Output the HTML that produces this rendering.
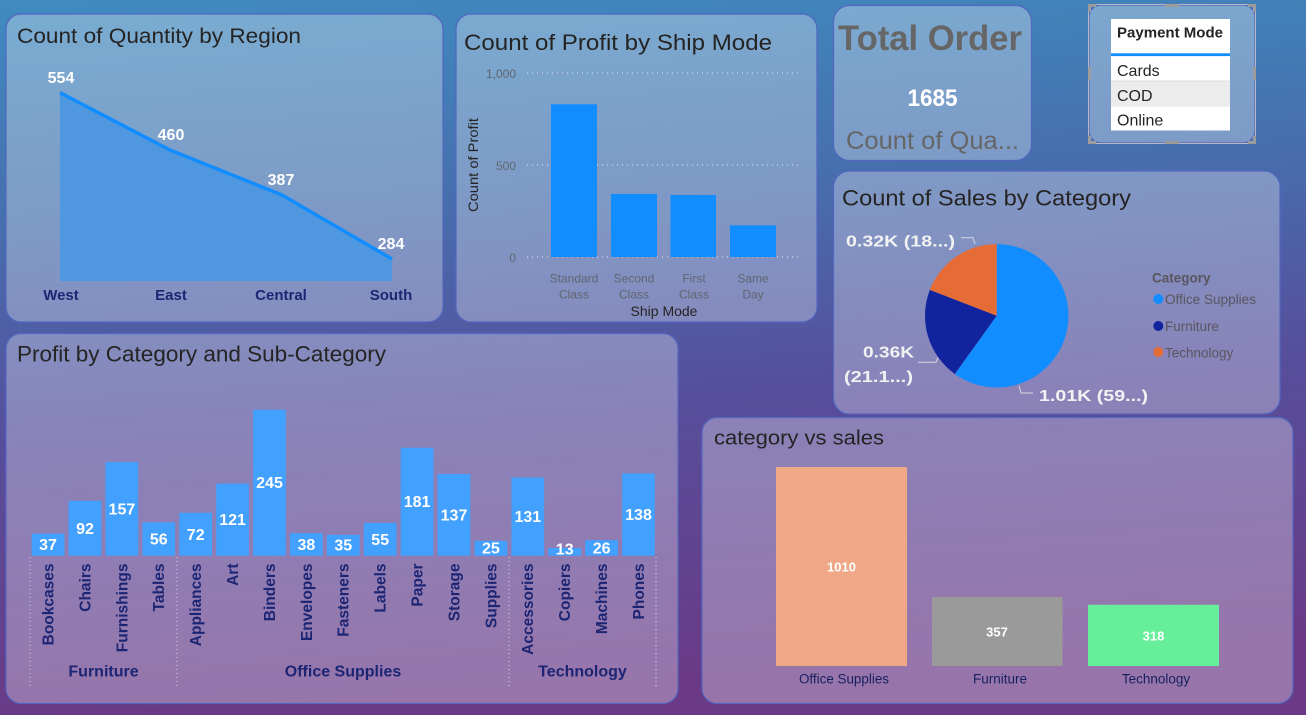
<!DOCTYPE html>
<html><head><meta charset="utf-8">
<style>
html,body{margin:0;padding:0;width:1306px;height:715px;overflow:hidden;}
svg{display:block;font-family:"Liberation Sans","DejaVu Sans",sans-serif;}
</style></head>
<body>
<svg width="1306" height="715" viewBox="0 0 1306 715" xmlns="http://www.w3.org/2000/svg">
<defs>
<linearGradient id="bg" x1="0" y1="0" x2="0.12" y2="1">
<stop offset="0" stop-color="#3f8bc0"/>
<stop offset="0.3" stop-color="#4670ae"/>
<stop offset="0.6" stop-color="#564f9c"/>
<stop offset="1" stop-color="#6a3a86"/>
</linearGradient>
</defs>
<rect width="1306" height="715" fill="url(#bg)"/>

<!-- Card 1: Count of Quantity by Region -->
<rect x="6" y="14" width="437" height="308" rx="15" fill="rgba(255,255,255,0.3)" stroke="#5366c2" stroke-width="1.2"/>
<text x="17" y="43" font-size="21" fill="#252423" textLength="284" lengthAdjust="spacingAndGlyphs">Count of Quantity by Region</text>
<polygon points="60,92.7 170,150 282,195 392,259 392,281 60,281" fill="#4f98df"/>
<polyline points="60,92.7 170,150 282,195 392,259" fill="none" stroke="#118DFF" stroke-width="3.5" stroke-linejoin="round"/>
<g font-size="16" font-weight="bold" fill="#ffffff" text-anchor="middle">
<text x="61" y="83">554</text>
<text x="171" y="140">460</text>
<text x="281" y="185">387</text>
<text x="391" y="249">284</text>
</g>
<g font-size="15" font-weight="bold" fill="#1b2773" text-anchor="middle">
<text x="61" y="300">West</text>
<text x="171" y="300">East</text>
<text x="281" y="300">Central</text>
<text x="391" y="300">South</text>
</g>

<!-- Card 2: Count of Profit by Ship Mode -->
<rect x="456" y="14" width="361" height="308" rx="15" fill="rgba(255,255,255,0.3)" stroke="#5366c2" stroke-width="1.2"/>
<text x="464" y="50" font-size="22" fill="#252423" textLength="308" lengthAdjust="spacingAndGlyphs">Count of Profit by Ship Mode</text>
<g stroke="#e6e6ee" stroke-width="1" stroke-dasharray="1,4">
<line x1="527" y1="73" x2="802" y2="73"/>
<line x1="527" y1="165" x2="802" y2="165"/>
<line x1="527" y1="257" x2="802" y2="257"/>
</g>
<g font-size="12" fill="#5f6670" text-anchor="end">
<text x="516" y="78">1,000</text>
<text x="516" y="170">500</text>
<text x="516" y="262">0</text>
</g>
<g fill="#118DFF">
<rect x="551" y="104.3" width="46" height="152.7"/>
<rect x="611" y="194" width="46" height="63"/>
<rect x="670.5" y="195" width="45.5" height="62"/>
<rect x="730" y="225.3" width="46" height="31.7"/>
</g>
<g font-size="12" fill="#5f6670" text-anchor="middle">
<text x="574" y="282.5">Standard</text><text x="574" y="298.5">Class</text>
<text x="634" y="282.5">Second</text><text x="634" y="298.5">Class</text>
<text x="694" y="282.5">First</text><text x="694" y="298.5">Class</text>
<text x="753" y="282.5">Same</text><text x="753" y="298.5">Day</text>
</g>
<text x="664" y="316" font-size="14" fill="#252423" text-anchor="middle">Ship Mode</text>
<text transform="translate(478,165) rotate(-90)" font-size="14" fill="#252423" text-anchor="middle" textLength="94" lengthAdjust="spacingAndGlyphs">Count of Profit</text>

<!-- Card 3: Total Order -->
<rect x="833.5" y="5.5" width="198" height="155" rx="16" fill="rgba(255,255,255,0.3)" stroke="#5366c2" stroke-width="1.2"/>
<text x="838" y="50" font-size="35" font-weight="bold" fill="#666666" textLength="184" lengthAdjust="spacingAndGlyphs">Total Order</text>
<text x="932.5" y="106" font-size="24" font-weight="bold" fill="#ffffff" text-anchor="middle" textLength="50" lengthAdjust="spacingAndGlyphs">1685</text>
<text x="846" y="149" font-size="25" fill="#666666" textLength="173" lengthAdjust="spacingAndGlyphs">Count of Qua...</text>

<!-- Slicer -->
<rect x="1089" y="5" width="166" height="138" rx="12" fill="rgba(255,255,255,0.3)" stroke="#5366c2" stroke-width="1.2"/>
<rect x="1088.5" y="4.5" width="167" height="139" fill="none" stroke="#b8b8c0" stroke-width="1"/>
<g fill="#9c9c9c">
<rect x="1088" y="4" width="8" height="3"/><rect x="1088" y="4" width="3" height="8"/>
<rect x="1248" y="4" width="8" height="3"/><rect x="1253" y="4" width="3" height="8"/>
<rect x="1088" y="141" width="8" height="3"/><rect x="1088" y="136" width="3" height="8"/>
<rect x="1248" y="141" width="8" height="3"/><rect x="1253" y="136" width="3" height="8"/>
<rect x="1165" y="4" width="14" height="3"/><rect x="1165" y="141" width="14" height="3"/>
<rect x="1088" y="67" width="3" height="13"/><rect x="1253" y="67" width="3" height="13"/>
</g>
<rect x="1111" y="19" width="119" height="111.5" fill="#ffffff"/>
<rect x="1111" y="53.3" width="119" height="2.8" fill="#118DFF"/>
<rect x="1111" y="81" width="119" height="25.7" fill="#ececec"/>
<line x1="1111" y1="81" x2="1230" y2="81" stroke="#dcdcdc" stroke-width="1"/>
<text x="1117" y="37.7" font-size="15" font-weight="bold" fill="#252423" textLength="106" lengthAdjust="spacingAndGlyphs">Payment Mode</text>
<g font-size="16" fill="#252423">
<text x="1117" y="76">Cards</text>
<text x="1117" y="101">COD</text>
<text x="1117" y="125.7">Online</text>
</g>

<!-- Card 4: Pie -->
<rect x="833.5" y="171" width="446.5" height="243" rx="16" fill="rgba(255,255,255,0.3)" stroke="#5366c2" stroke-width="1.2"/>
<text x="842" y="205.7" font-size="22" fill="#252423" textLength="289" lengthAdjust="spacingAndGlyphs">Count of Sales by Category</text>
<path d="M996.7,315.8 L996.7,244.1 A71.7,71.7 0 1 1 954.76,373.96 Z" fill="#118DFF"/>
<path d="M996.7,315.8 L954.76,373.96 A71.7,71.7 0 0 1 929.85,289.87 Z" fill="#12239E"/>
<path d="M996.7,315.8 L929.85,289.87 A71.7,71.7 0 0 1 996.7,244.1 Z" fill="#E66C37"/>
<g fill="none" stroke="#d8d8e0" stroke-width="1">
<polyline points="961,237.7 973,237.7 975,244"/>
<polyline points="918,362.3 936,362.3 938,357.7"/>
<polyline points="1019,385.7 1021,393 1033,393"/>
</g>
<g font-size="16" font-weight="bold" fill="#f2f2f2">
<text x="846" y="246.7" textLength="109" lengthAdjust="spacingAndGlyphs">0.32K (18...)</text>
<text x="863" y="357.5" textLength="51" lengthAdjust="spacingAndGlyphs">0.36K</text>
<text x="844" y="382" textLength="69" lengthAdjust="spacingAndGlyphs">(21.1...)</text>
<text x="1039" y="401" textLength="109" lengthAdjust="spacingAndGlyphs">1.01K (59...)</text>
</g>
<text x="1152" y="282.7" font-size="13.5" font-weight="bold" fill="#5a5560">Category</text>
<circle cx="1158.3" cy="299" r="5" fill="#118DFF"/>
<circle cx="1158.3" cy="326" r="5" fill="#12239E"/>
<circle cx="1158.3" cy="352" r="5" fill="#E66C37"/>
<g font-size="13.5" fill="#5a5560">
<text x="1165" y="304" textLength="91" lengthAdjust="spacingAndGlyphs">Office Supplies</text>
<text x="1165" y="331">Furniture</text>
<text x="1165" y="357.3">Technology</text>
</g>

<!-- Card 5: Profit by Category and Sub-Category -->
<rect x="6" y="333.5" width="672" height="370" rx="15" fill="rgba(255,255,255,0.3)" stroke="#5366c2" stroke-width="1.2"/>
<text x="17" y="361.7" font-size="22" fill="#252423" textLength="369" lengthAdjust="spacingAndGlyphs">Profit by Category and Sub-Category</text>
<g stroke="#dcdce8" stroke-width="1" stroke-dasharray="1,3">
<line x1="30" y1="557" x2="30" y2="689"/>
<line x1="177" y1="557" x2="177" y2="689"/>
<line x1="509" y1="557" x2="509" y2="689"/>
<line x1="656" y1="557" x2="656" y2="689"/>
</g>
<g fill="#42A0FF">
<rect x="31.7" y="533.6" width="32.7" height="22.1"/>
<rect x="68.6" y="500.9" width="32.7" height="54.8"/>
<rect x="105.5" y="462.1" width="32.7" height="93.6"/>
<rect x="142.4" y="522.3" width="32.7" height="33.4"/>
<rect x="179.3" y="512.8" width="32.7" height="42.9"/>
<rect x="216.2" y="483.6" width="32.7" height="72.1"/>
<rect x="253.1" y="409.7" width="32.7" height="146"/>
<rect x="290.0" y="533.1" width="32.7" height="22.6"/>
<rect x="326.9" y="534.8" width="32.7" height="20.9"/>
<rect x="363.8" y="522.9" width="32.7" height="32.8"/>
<rect x="400.7" y="447.8" width="32.7" height="107.9"/>
<rect x="437.6" y="474.0" width="32.7" height="81.7"/>
<rect x="474.5" y="540.8" width="32.7" height="14.9"/>
<rect x="511.4" y="477.6" width="32.7" height="78.1"/>
<rect x="548.3" y="548.0" width="32.7" height="7.7"/>
<rect x="585.2" y="540.2" width="32.7" height="15.5"/>
<rect x="622.1" y="473.4" width="32.7" height="82.3"/>
</g>
<g font-size="16" font-weight="bold" fill="#ffffff" text-anchor="middle">
<text x="48" y="550.2">37</text>
<text x="85" y="533.8">92</text>
<text x="121.9" y="514.4">157</text>
<text x="158.8" y="544.5">56</text>
<text x="195.7" y="539.8">72</text>
<text x="232.6" y="525.2">121</text>
<text x="269.5" y="488.2">245</text>
<text x="306.4" y="549.9">38</text>
<text x="343.3" y="550.7">35</text>
<text x="380.2" y="544.8">55</text>
<text x="417.1" y="507.2">181</text>
<text x="454" y="520.4">137</text>
<text x="490.9" y="553.5">25</text>
<text x="527.8" y="522.2">131</text>
<text x="564.7" y="554.5">13</text>
<text x="601.6" y="553.5">26</text>
<text x="638.5" y="520.1">138</text>
</g>
<g font-size="15.5" font-weight="bold" fill="#1c2474" text-anchor="end">
<text transform="translate(53.5,563.5) rotate(-90)">Bookcases</text>
<text transform="translate(90.4,563.5) rotate(-90)">Chairs</text>
<text transform="translate(127.3,563.5) rotate(-90)">Furnishings</text>
<text transform="translate(164.2,563.5) rotate(-90)">Tables</text>
<text transform="translate(201.1,563.5) rotate(-90)">Appliances</text>
<text transform="translate(238,563.5) rotate(-90)">Art</text>
<text transform="translate(274.9,563.5) rotate(-90)">Binders</text>
<text transform="translate(311.8,563.5) rotate(-90)">Envelopes</text>
<text transform="translate(348.7,563.5) rotate(-90)">Fasteners</text>
<text transform="translate(385.6,563.5) rotate(-90)">Labels</text>
<text transform="translate(422.5,563.5) rotate(-90)">Paper</text>
<text transform="translate(459.4,563.5) rotate(-90)">Storage</text>
<text transform="translate(496.3,563.5) rotate(-90)">Supplies</text>
<text transform="translate(533.2,563.5) rotate(-90)">Accessories</text>
<text transform="translate(570.1,563.5) rotate(-90)">Copiers</text>
<text transform="translate(607,563.5) rotate(-90)">Machines</text>
<text transform="translate(643.9,563.5) rotate(-90)">Phones</text>
</g>
<g font-size="16" font-weight="bold" fill="#1c2474" text-anchor="middle">
<text x="103.5" y="676.7">Furniture</text>
<text x="343" y="676.7">Office Supplies</text>
<text x="582.5" y="676.7">Technology</text>
</g>

<!-- Card 6: category vs sales -->
<rect x="702" y="417.5" width="591" height="286" rx="15" fill="rgba(255,255,255,0.3)" stroke="#5366c2" stroke-width="1.2"/>
<text x="714" y="444.3" font-size="20" fill="#252423" textLength="170" lengthAdjust="spacingAndGlyphs">category vs sales</text>
<rect x="776" y="467" width="131" height="199" fill="#EFA786"/>
<rect x="932" y="597" width="130.5" height="69" fill="#9a9a9a"/>
<rect x="1088" y="604.7" width="131" height="61.3" fill="#66EE9B"/>
<g font-size="13" font-weight="bold" fill="#ffffff" text-anchor="middle">
<text x="841.5" y="571.5">1010</text>
<text x="997" y="636.5">357</text>
<text x="1153.5" y="640.5">318</text>
</g>
<g font-size="13.5" fill="#17205f" text-anchor="middle">
<text x="844" y="683.3" textLength="90" lengthAdjust="spacingAndGlyphs">Office Supplies</text>
<text x="1000" y="683.3">Furniture</text>
<text x="1156" y="683.3">Technology</text>
</g>
</svg>
</body></html>
